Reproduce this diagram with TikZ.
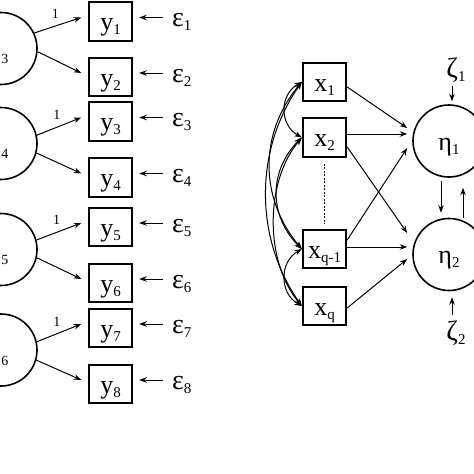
\documentclass[tikz,border=0pt]{standalone}
\usepackage{fontspec}
\setmainfont{Liberation Serif}
\usetikzlibrary{arrows.meta,calc}
\newcommand\sbs[1]{\raisebox{-4pt}{\fontsize{15}{15}\selectfont #1}}
\begin{document}
\begin{tikzpicture}[x=1pt,y=1pt,
  box/.style={draw,line width=1.9pt,minimum width=43.5pt,minimum height=38.5pt,inner sep=0pt,text height=20pt,text depth=2pt,font=\fontsize{26}{28}\selectfont},
  lat/.style={draw,circle,line width=1.6pt,minimum size=72pt,inner sep=0pt,text height=20pt,text depth=2pt,font=\fontsize{26}{28}\selectfont},
  arr/.style={line width=1pt,-{Stealth[length=7.5pt,width=5.5pt]}},
  dbl/.style={line width=1pt,{Stealth[length=7.5pt,width=5.5pt]}-{Stealth[length=7.5pt,width=5.5pt]}},
  err/.style={font=\fontsize{28}{30}\selectfont,inner sep=0pt},
  small/.style={font=\fontsize{14}{16}\selectfont,inner sep=0pt}]
\useasboundingbox (0,0) rectangle (474,-474);
\clip (0,0) rectangle (474,-474);
% measurement boxes and errors
\foreach \i/\yy in {1/21.5,2/77,3/121.5,4/177.5,5/227,6/283,7/328,8/384}{
  \node[box] (y\i) at (110.5,-\yy) {y\sbs{\i}};
  \node[err,anchor=base west] (e\i) at ($(y\i.center)+(61.5,-5)$) {ε\sbs{\i}};
  \draw[arr] ($(e\i.base west)+(-9,9)$) -- ($(y\i.east)+(6,4)$);
}
% latent variables (cut at the left edge)
\foreach \k/\yy/\n/\a/\b/\ya/\yb in {1/48.5/3/25/-5/1/2, 2/143.5/4/13/-15/3/4, 3/249.5/5/15/-13/5/6, 4/350/6/13/-16/7/8}{
  \node[lat] (l\k) at (1,-\yy) {};
  \node[small] (n\k) at ($(l\k.center)+(4,-10.5)$) {\n};
  \draw[arr] (l\k.\a) -- ($(y\ya.west)+(-6.5,4)$) node[small,pos=0.45,above=7pt] (one\k) {1};
  \draw[arr] (l\k.\b) -- ($(y\yb.west)+(-6.5,4)$);
}
% structural part
\node[box] (xa) at (324.5,-82) {x\sbs{1}};
\node[box] (xb) at (324.5,-137.5) {x\sbs{2}};
\node[box] (xc) at (324.5,-249) {x\sbs{q-1}};
\node[box] (xd) at (324.5,-306) {x\sbs{q}};
\node[lat] (eta1) at (449,-141) {η\sbs{1}};
\node[lat] (eta2) at (449,-254.5) {η\sbs{2}};
\node[err] (z1) at (456,-70) {ζ\sbs{1}};
\node[err] (z2) at (456,-333) {ζ\sbs{2}};
\draw[arr] ($(z1.south)+(-4,-3)$) -- ($(eta1.north)+(3,3)$);
\draw[arr] ($(z2.north)+(-4,5)$) -- ($(eta2.south)+(3,-6)$);
\draw[arr] ($(eta1.south)+(-8,-3)$) -- ($(eta2.north)+(-8,5)$);
\draw[arr] ($(eta2.north)+(14,0)$) -- ($(eta1.south)+(14,-10)$);
\draw[arr] ($(xa.east)+(0,-5)$) -- ($(eta1.west)+(-5,13)$);
\draw[arr] ($(xb.east)+(0,3.5)$) -- ($(eta1.west)+(-5,7)$);
\draw[arr] ($(xb.east)+(0,-9.5)$) -- ($(eta2.west)+(-5,21.5)$);
\draw[arr] ($(xc.east)+(0,9)$) -- ($(eta1.west)+(-5,-7)$);
\draw[arr] ($(xc.east)+(0,2)$) -- ($(eta2.west)+(-5,7.5)$);
\draw[arr] ($(xd.east)+(0,-2)$) -- ($(eta2.west)+(-5,-4.5)$);
\draw[line width=1.2pt,dash pattern=on 2pt off 1.5pt] ($(xb.south)+(0,-6)$) -- ($(xc.north)+(0,5)$);
% covariances
\draw[dbl] (xa.west) to[out=210,in=150,looseness=1.2] (xb.west);
\draw[dbl] (xc.west) to[out=210,in=150,looseness=1.17] (xd.west);
\draw[dbl] (xb.west) to[out=225,in=135,looseness=1.08] (xc.west);
\draw[dbl] (xa.west) to[out=230,in=130,looseness=1.02] (xc.west);
\draw[dbl] (xb.west) to[out=230,in=130,looseness=0.88] (xd.west);
\draw[dbl] (xa.west) to[out=235,in=125,looseness=0.95] (xd.west);
\end{tikzpicture}
\end{document}
